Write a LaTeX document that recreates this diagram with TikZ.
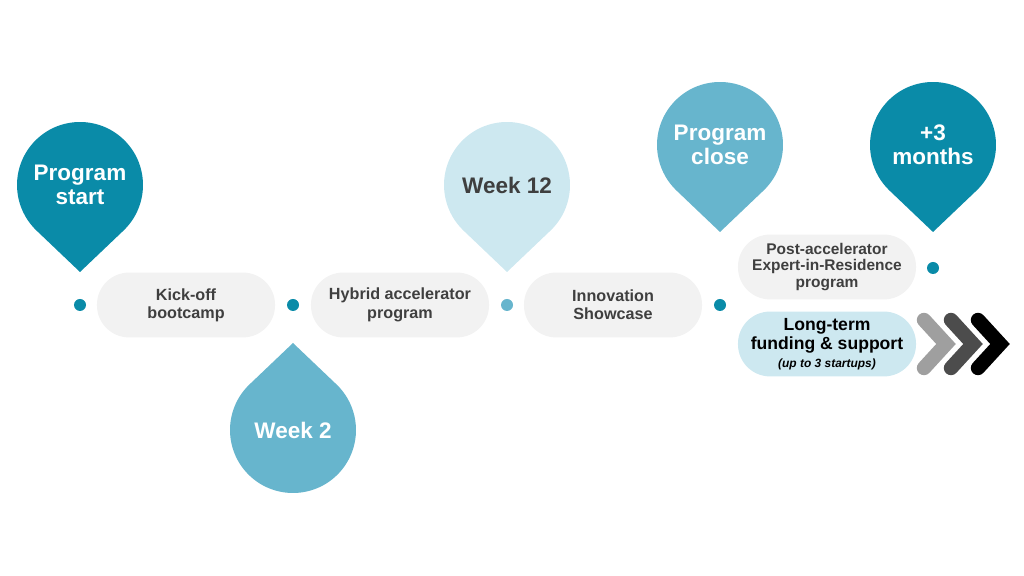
\documentclass[tikz,border=0pt]{standalone}
\usepackage{fontspec}
\setmainfont{Liberation Sans}
\usetikzlibrary{calc}
\definecolor{tealdark}{HTML}{0A8BA8}
\definecolor{tealmid}{HTML}{67B5CD}
\definecolor{teallight}{HTML}{CDE8F0}
\definecolor{pillgray}{HTML}{F2F2F2}
\definecolor{textgray}{HTML}{3F3F3F}

% drop: center, tip angle, colour, name, text colour, text
\newcommand{\droplet}[6]{%
  \fill[#3] ($(#1)+(#2:87)$) -- ($(#1)+(#2+43.6:63)$)
    arc[start angle=#2+43.6, end angle=#2+316.4, radius=63] -- cycle;
  \node[droptext, text=#5] (#4) at (#1) {#6};
}

\begin{document}
\begin{tikzpicture}[
    x=0.025cm, y=0.025cm,
    droptext/.style={align=center, font=\bfseries\fontsize{16}{17}\selectfont},
    pill/.style={rounded corners=0.8cm, minimum width=4.45cm, minimum height=1.62cm,
        fill=pillgray, align=center, text=textgray, font=\bfseries\fontsize{11.5}{13}\selectfont},
    dot/.style={circle, inner sep=0pt, minimum size=0.3cm},
    chevron/.style={line width=0.36cm, line cap=round}
]
\useasboundingbox (0,0) rectangle (1024,576);

% Drops
\droplet{80,391}{270}{tealdark}{dstart}{white}{Program\\start}
\droplet{293,146}{90}{tealmid}{dweek2}{white}{Week 2}
\droplet{507,391}{270}{teallight}{dweek12}{textgray}{Week 12}
\droplet{720,431}{270}{tealmid}{dclose}{white}{Program\\close}
\droplet{933,431}{270}{tealdark}{dplus}{white}{+3\\months}

% Dots
\node[dot, fill=tealdark] (t1) at (80,271) {};
\node[dot, fill=tealdark] (t2) at (293,271) {};
\node[dot, fill=tealmid] (t3) at (507,271) {};
\node[dot, fill=tealdark] (t4) at (720,271) {};
\node[dot, fill=tealdark] (t5) at (933,308) {};

% Pills
\node[pill] (kick) at (186,271) {Kick-off\\bootcamp};
\node[pill] (hybrid) at (400,271) {Hybrid accelerator\\program};
\node[pill] (show) at (613,271) {Innovation\\Showcase};
\node[pill, font=\bfseries\fontsize{11}{12}\selectfont] (post) at (827,309) {Post-accelerator\\Expert-in-Residence\\program};
\node[pill, fill=teallight, text=black, font=\bfseries\fontsize{12.5}{13.5}\selectfont] (long) at (827,232)
    {Long-term\\funding \& support\\[-1pt]{\fontsize{8.5}{9.5}\selectfont\itshape (up to 3 startups)}};

% Chevrons
\foreach \dx/\col in {0/gray!75, 27/black!70, 54/black} {
    \draw[chevron, \col] (924+\dx,256) -- (946+\dx,232) -- (924+\dx,208);
}
\end{tikzpicture}
\end{document}
